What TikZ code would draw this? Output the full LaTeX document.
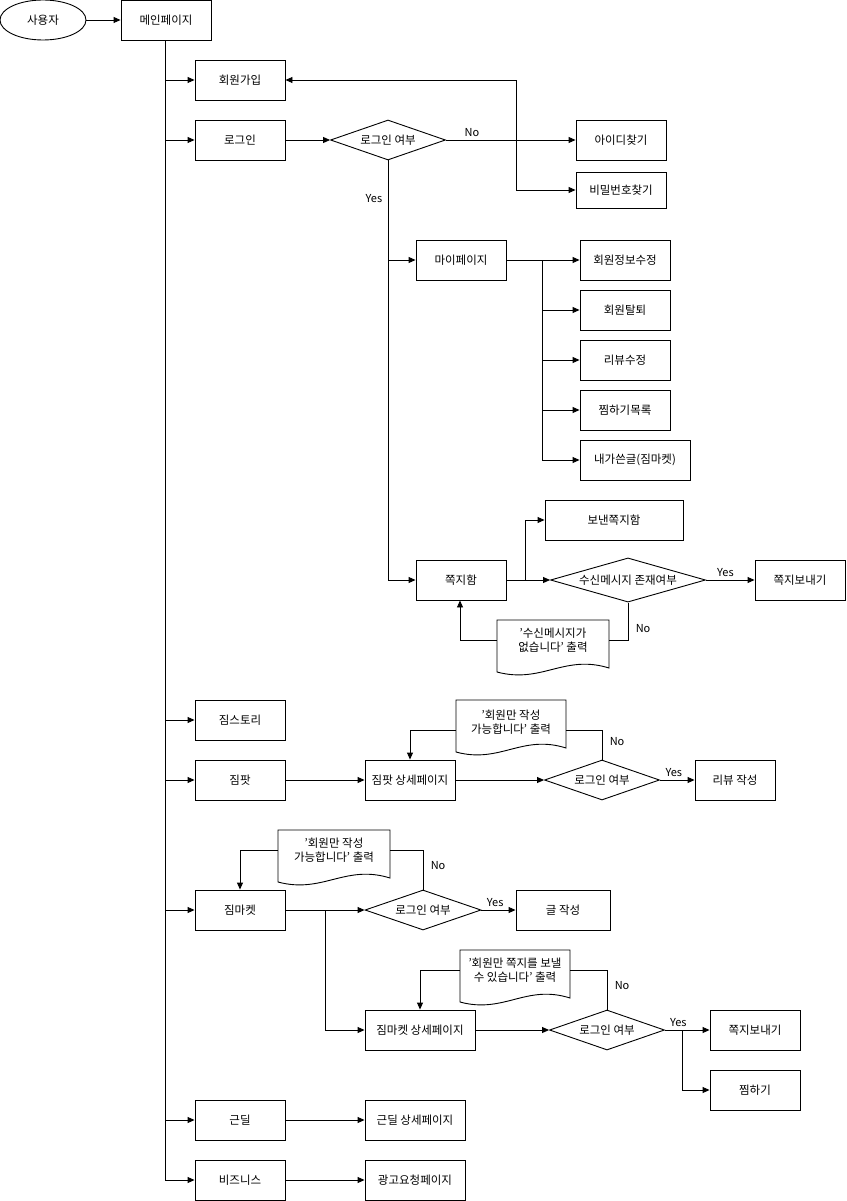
\documentclass[tikz,border=0pt]{standalone}
\usepackage{fontspec}
\setmainfont{Noto Sans CJK KR}
\usetikzlibrary{shapes.geometric,arrows.meta}
\begin{document}
\begin{tikzpicture}[x=1pt,y=-1pt,
  every node/.style={font=\fontsize{11.5}{14}\selectfont, align=center},
  box/.style={draw, rectangle, inner sep=0, minimum height=40},
  dia/.style={draw, diamond, aspect=2.9, inner sep=0, minimum height=40},
  doc/.style={inner sep=0, minimum height=#1},
  lab/.style={font=\fontsize{11}{13}\selectfont},
  arr/.style={-{Triangle[length=7pt,width=6pt]}},
  line width=0.9pt]
\useasboundingbox[fill=white] (0,0) rectangle (846,1201);
% docs
\newcommand\docdraw[5]{\draw[fill=white] (#1,#2)--(#3,#2)--(#3,#4-4) .. controls ({#1+0.6*(#3-#1)},{#4-18}) and ({#1+0.4*(#3-#1)},{#4+12}) .. (#1,#4) -- cycle;}
\docdraw{497}{620}{609}{672}{}
\docdraw{456}{700}{566}{752}{}
\docdraw{278}{830}{390}{882}{}
\docdraw{460}{950}{570}{1002}{}
\node[doc=40,minimum width=112] (d1) at (553,640) {'수신메시지가\\없습니다' 출력};
\node[doc=60,minimum width=110] (d2) at (511,730) {};
\node at (511,722) {'회원만 작성\\가능합니다' 출력};
\node[doc=40,minimum width=112] (d3) at (334,850) {'회원만 작성\\가능합니다' 출력};
\node[doc=40,minimum width=110] (d4) at (515,970) {'회원만 쪽지를 보낼\\수 있습니다' 출력};

\node[draw,ellipse,minimum width=86,minimum height=40,inner sep=0] (user) at (43,20) {사용자};
\node[box,minimum width=90] (main) at (166,20) {메인페이지};
\node[box,minimum width=90] (join) at (240,80) {회원가입};
\node[box,minimum width=90] (login) at (240,140) {로그인};
\node[dia,minimum width=115] (q1) at (388,140) {로그인 여부};
\node[box,minimum width=90] (findid) at (621,140) {아이디찾기};
\node[box,minimum width=90,minimum height=36] (findpw) at (621,190) {비밀번호찾기};
\node[box,minimum width=90] (my) at (461,260) {마이페이지};
\node[box,minimum width=90] (m1) at (625,260) {회원정보수정};
\node[box,minimum width=90] (m2) at (625,310) {회원탈퇴};
\node[box,minimum width=90] (m3) at (625,360) {리뷰수정};
\node[box,minimum width=90] (m4) at (625,410) {찜하기목록};
\node[box,minimum width=110] (m5) at (635,460) {내가쓴글(짐마켓)};
\node[box,minimum width=138] (sent) at (614,520) {보낸쪽지함};
\node[box,minimum width=90] (msg) at (461,580) {쪽지함};
\node[dia,minimum width=155] (q2) at (628,580) {수신메시지 존재여부};
\node[box,minimum width=90] (send1) at (800,580) {쪽지보내기};
\node[box,minimum width=90] (story) at (240,720) {짐스토리};
\node[box,minimum width=90] (pot) at (240,780) {짐팟};
\node[box,minimum width=90] (potd) at (410,780) {짐팟 상세페이지};
\node[dia,minimum width=115] (q3) at (602,780) {로그인 여부};
\node[box,minimum width=80] (review) at (735,780) {리뷰 작성};
\node[box,minimum width=90] (market) at (240,910) {짐마켓};
\node[dia,minimum width=116] (q4) at (423,910) {로그인 여부};
\node[box,minimum width=94] (write) at (563,910) {글 작성};
\node[box,minimum width=110] (marketd) at (420,1030) {짐마켓 상세페이지};
\node[dia,minimum width=115] (q5) at (607,1030) {로그인 여부};
\node[box,minimum width=90] (send2) at (755,1030) {쪽지보내기};
\node[box,minimum width=90] (zzim) at (755,1090) {찜하기};
\node[box,minimum width=90] (deal) at (240,1120) {근딜};
\node[box,minimum width=100] (deald) at (415,1120) {근딜 상세페이지};
\node[box,minimum width=90] (biz) at (240,1180) {비즈니스};
\node[box,minimum width=100] (ad) at (415,1180) {광고요청페이지};

\coordinate (t) at (165,40);
\draw[arr] (user) -- (main);
\draw (main.south -| t) -- (165,1180);
\foreach \n in {join,login,story,pot,market,deal,biz} \draw[arr] (165,0 |- \n.west) -- (\n.west);
\draw[arr] (login) -- (q1);
\draw[arr] (q1) -- node[lab,above,pos=0.2]{No} (findid);
\draw[arr] (q1.east) -- (516,140) |- (join.east);
\draw[arr] (516,140) |- (findpw.west);
\draw (q1.south) -- node[lab,left,pos=0.09,xshift=-2]{Yes} (388,580);
\draw[arr] (388,260) -- (my.west);
\draw[arr] (388,580) -- (msg.west);
\draw (my.east) -- (542,260) -- (542,460);
\foreach \n in {m1,m2,m3,m4,m5} \draw[arr] (542,0 |- \n.west) -- (\n.west);
\draw[arr] (msg) -- (q2);
\draw[arr] (525,580) |- (sent.west);
\draw[arr] (q2) -- node[lab,above,pos=0.4]{Yes} (send1);
\draw (q2.south) |- node[lab,right,pos=0.35,xshift=4]{No} (d1.east);
\draw[arr] (d1.west) -| (msg.south -| 460,0);
\draw[arr] (pot) -- (potd);
\draw[arr] (potd) -- (q3);
\draw[arr] (q3) -- node[lab,above,pos=0.4]{Yes} (review);
\draw (q3.north) |- node[lab,right,pos=0.3,xshift=4]{No} (d2.east);
\draw[arr] (d2.west) -| (potd.north);
\draw[arr] (market) -- (q4);
\draw[arr] (325,910) |- (marketd.west);
\draw[arr] (q4) -- node[lab,above,pos=0.4]{Yes} (write);
\draw (q4.north) |- node[lab,right,pos=0.3,xshift=4]{No} (d3.east);
\draw[arr] (d3.west) -| (market.north);
\draw[arr] (marketd) -- (q5);
\draw[arr] (q5) -- node[lab,above,pos=0.3]{Yes} (send2);
\draw[arr] (682,1030) |- (zzim.west);
\draw (q5.north) |- node[lab,right,pos=0.3,xshift=4]{No} (d4.east);
\draw[arr] (d4.west) -| (marketd.north);
\draw[arr] (deal) -- (deald);
\draw[arr] (biz) -- (ad);
\end{tikzpicture}
\end{document}
